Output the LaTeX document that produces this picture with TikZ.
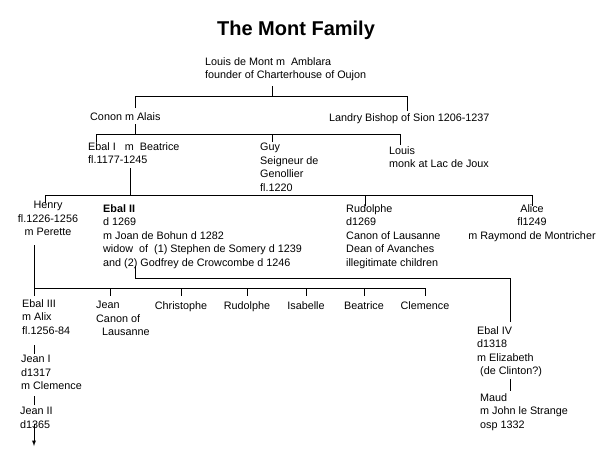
\documentclass[tikz,border=0pt]{standalone}
\usepackage{fontspec}
\setmainfont{Liberation Sans}
\tikzset{
  person/.style={inner sep=0pt, align=left, anchor=north west, font=\fontsize{10.8}{13.6}\selectfont},
  personc/.style={inner sep=0pt, align=center, anchor=north, font=\fontsize{10.8}{13.6}\selectfont},
  line/.style={draw=black, line width=0.9pt}
}
\begin{document}
\begin{tikzpicture}[x=1pt, y=-1pt]
    \useasboundingbox (0,0) rectangle (600,450);
    \node [font=\fontsize{20}{24}\bfseries\selectfont] (title) at (296,30) {The Mont Family};

    % generation 1 and 2
    \node [person] (louis) at (205,57) {Louis de Mont m \ Amblara\\founder of Charterhouse of Oujon};
    \node [person] (conon) at (90,112) {Conon m Alais};
    \node [person] (landry) at (329,113) {Landry Bishop of Sion 1206-1237};
    \draw [line] (272,86) -- (272,96) (135,108) |- (407,96) -- (407,111);

    % generation 3
    \node [person] (ebal1) at (88,142) {Ebal I \ \ m \ Beatrice\\fl.1177-1245};
    \node [person] (guy) at (260,143) {Guy\\Seigneur de\\Genollier\\fl.1220};
    \node [person] (louism) at (389,146) {Louis\\monk at Lac de Joux};
    \draw [line] (135,124) -- (135,134) (96,142) |- (400,134) -- (400,145);
    \draw [line] (272,134) -- (272,142);

    % generation 4
    \node [personc] (henry) at (48,201) {Henry\\fl.1226-1256\\m Perette};
    \node [person] (ebal2) at (103,204) {\textbf{Ebal II}\\d 1269\\m Joan de Bohun d 1282\\widow \ of \ (1) Stephen de Somery d 1239\\and (2) Godfrey de Crowcombe d 1246};
    \node [person] (rudolphe) at (346,204) {Rudolphe\\d1269\\Canon of Lausanne\\Dean of Avanches\\illegitimate children};
    \node [personc] (alice) at (532,204) {Alice\\fl1249\\m Raymond de Montricher};
    \draw [line] (130,168) -- (130,195) (45,203) |- (532,195) -- (532,206);
    \draw [line] (365,195) -- (365,206);

    % generation 5
    \node [person] (ebal3) at (22,299) {Ebal III\\m Alix\\fl.1256-84};
    \node [person] (jean) at (96,301) {Jean\\Canon of\\\ \ Lausanne};
    \node [personc] (christophe) at (181,301) {Christophe};
    \node [personc] (rudolphe2) at (247,301) {Rudolphe};
    \node [personc] (isabelle) at (306,301) {Isabelle};
    \node [personc] (beatrice) at (364,301) {Beatrice};
    \node [personc] (clemence) at (425,301) {Clemence};
    \draw [line] (34,245) -- (34,288) -| (425,296);
    \foreach \xx in {34,110,181,247,306,364}
        \draw [line] (\xx,288) -- (\xx,296);
    \node [person] (ebal4) at (477,326) {Ebal IV\\d1318\\m Elizabeth\\\ (de Clinton?)};
    \draw [line] (135,266) -- (135,278) -| (510,322);

    % generation 6 and 7
    \node [person] (jean1) at (21,355) {Jean I\\d1317\\m Clemence};
    \node [person] (jean2) at (20,407) {Jean II\\d1365};
    \node [person] (maud) at (480,393) {Maud\\m John le Strange\\osp 1332};
    \draw [line] (34,345) -- (34,354) (34,396) -- (34,405);
    \draw [line, -latex] (34,424) -- (34,446);
    \draw [line] (510,379) -- (510,391);
\end{tikzpicture}
\end{document}
